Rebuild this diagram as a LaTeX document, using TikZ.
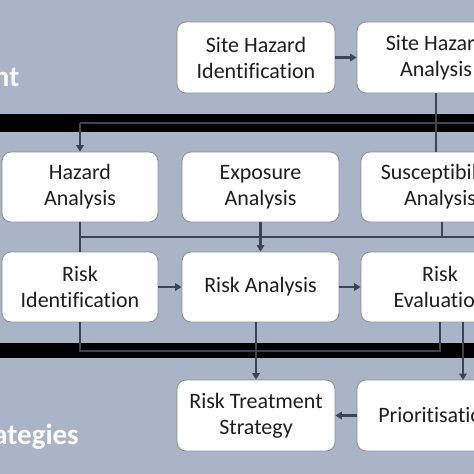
\documentclass[tikz,border=0pt]{standalone}
\usepackage{fontspec}
\setmainfont{Carlito}[Ligatures=NoCommon]
\usetikzlibrary{arrows.meta,calc}
\definecolor{bg}{HTML}{A9B4C7}
\definecolor{conn}{HTML}{3A4557}
\definecolor{boxline}{HTML}{8C8C8C}
\definecolor{txt}{HTML}{1E1E1E}
\tikzset{
  box/.style={draw=boxline, line width=0.8pt, fill=white, rounded corners=9pt,
    minimum width=#1, minimum height=71pt, inner sep=0pt, align=center,
    text=txt, font=\fontsize{22}{26}\selectfont},
  box/.default=158pt,
  link/.style={draw=conn, line width=2.3pt},
  arr/.style={link, -{Triangle[length=6.5pt,width=7.5pt]}},
  band/.style={fill=black},
  sidelabel/.style={text=white!95!bg, font=\bfseries\fontsize{29}{32}\selectfont, inner sep=0pt}
}
\begin{document}
\begin{tikzpicture}[x=1pt,y=-1pt]
\useasboundingbox (0,0) rectangle (474,474);
\clip (0,0) rectangle (474,474);
\fill[bg] (0,0) rectangle (474,474);
% black bands
\fill[band] (-5,114) rectangle (480,132);
\fill[band] (-5,343) rectangle (480,358);
% side labels
\node[sidelabel, anchor=base east] (lab1) at (19.5,86) {nt};
\node[sidelabel, anchor=base east] (lab2) at (79,444) {ategies};
% boxes
\node[box] (shi) at (256,57.5) {Site Hazard\\Identification};
\node[box] (sha) at (436,57.5) {Site Hazard\\Analysis};
\node[box=156pt, minimum height=70pt] (ha) at (80,187) {Hazard\\Analysis};
\node[box=157pt, minimum height=70pt] (ea) at (260.5,187) {Exposure\\Analysis};
\node[box, minimum height=70pt] (sa) at (440,187) {Susceptibility\\Analysis};
\node[box=156pt, minimum height=70pt] (ri) at (80,287) {Risk\\Identification};
\node[box=157pt, minimum height=70pt] (ra) at (260.5,287) {Risk Analysis};
\node[box, minimum height=70pt] (re) at (440,287) {Risk\\Evaluation};
\node[box] (rts) at (256,415.5) {Risk Treatment\\Strategy};
\node[box] (pr) at (436,415.5) {Prioritisation};
% helper coordinates
\coordinate (t1) at (80,123);
\coordinate (tR) at (480,123);
\coordinate (m1) at (80,237);
\coordinate (mR) at (480,237);
\coordinate (sx) at (442,237);
\coordinate (b1) at (80,351);
\coordinate (b2) at (440,351);
\coordinate (e1) at (463,322);
\coordinate (e2) at (463,380);
% connectors
\draw[arr] (shi.east) -- (sha.west);
\draw[link] (sha.south) -- (sha.south |- sa.north);
\draw[link] (t1) -- (tR);
\draw[arr] (t1) -- (ha.north);
\draw[link] (ha.south) -- (ri.north);
\draw[link] (m1) -- (mR);
\draw[arr] (ea.south) -- (ra.north);
\draw[link] (sa.south -| sx) -- (sx);
\draw[arr] (ri.east) -- (ra.west);
\draw[arr] (ra.east) -- (re.west);
\draw[link] (ri.south) -- (b1) -- (b2) -- (re.south);
\draw[arr] (rts.north |- ra.south) -- (rts.north);
\draw[arr] (e1) -- (e2);
\draw[arr] (pr.west) -- (rts.east);
\end{tikzpicture}
\end{document}
